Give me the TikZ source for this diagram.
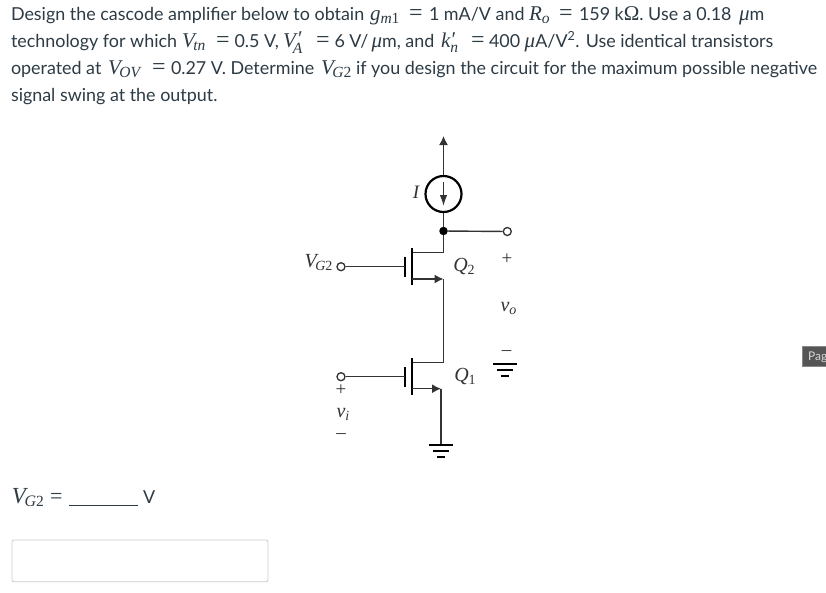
\documentclass[tikz,border=0pt]{standalone}
\usepackage{fontspec}
\setmainfont{Lato}
\newfontfamily\mathserif{Liberation Serif}
\usetikzlibrary{arrows.meta}
\definecolor{txtcol}{HTML}{2D3B45}
\definecolor{wirecol}{HTML}{333333}
\newcommand{\bodyfont}{\fontsize{17.9}{20}\selectfont}
\newcommand{\mvar}[1]{{\mathserif\itshape\fontsize{21}{20}\selectfont #1}}
\newcommand{\msub}[1]{\raisebox{-3.5pt}{\mathserif\itshape\fontsize{15.5}{14}\selectfont #1}}
\newcommand{\msubr}[1]{\raisebox{-3.5pt}{\mathserif\fontsize{15.5}{14}\selectfont #1}}
\newcommand{\mrm}[1]{{\mathserif\fontsize{21}{20}\selectfont #1}}
\newcommand{\meq}{{\mathserif\fontsize{24}{20}\selectfont =}}
\newcommand{\cvar}[1]{{\mathserif\itshape\fontsize{20}{18}\selectfont #1}}
\newcommand{\csub}[1]{\raisebox{-3pt}{\mathserif\fontsize{14}{12}\selectfont #1}}
\newcommand{\csubi}[1]{\raisebox{-3pt}{\mathserif\itshape\fontsize{14}{12}\selectfont #1}}
\tikzset{
  x=1pt,y=-1pt,
  txt/.style={anchor=base west,inner sep=0pt,outer sep=0pt,text=txtcol,font=\bodyfont},
  wire/.style={draw=wirecol,line width=1.4pt},
  heavy/.style={draw=black,line width=2.6pt},
  chan/.style={draw=black,line width=2.2pt},
  term/.style={circle,draw=wirecol,line width=1.3pt,fill=white,minimum size=8pt,inner sep=0pt},
  junct/.style={circle,fill=black,minimum size=8.5pt,inner sep=0pt},
  clabel/.style={inner sep=0pt,text=wirecol},
  symlabel/.style={clabel,font=\mathserif\fontsize{19}{19}\selectfont},
  tip/.style={-{Latex[length=9pt,width=9pt]}},
}
\newcommand{\gnd}[2]{
  \draw[heavy] (#1-12,#2) -- (#1+12,#2);
  \draw[heavy] (#1-8,#2+6) -- (#1+8,#2+6);
  \draw[heavy] (#1-4,#2+12) -- (#1+4,#2+12);
}
\begin{document}
\begin{tikzpicture}
\useasboundingbox[fill=white] (0,0) rectangle (826,592);
% Text, line 1
\node[txt] (a1) at (11,20) {Design the cascode amplifier below to obtain};
\node[txt] (a2) at (370,20) {\mvar{g}\msub{m}\msubr{1}};
\node[txt] (a3) at (409,20) {\meq};
\node[txt] (a4) at (429,20) {1 mA/V and};
\node[txt] (a5) at (529,20) {\mvar{R}\msub{o}};
\node[txt] (a6) at (559,20) {\meq};
\node[txt] (a7) at (579,20) {159 k\mrm{Ω}. Use a 0.18};
\node[txt] (a8) at (739,20) {\mvar{μ}m};
% line 2
\node[txt] (b1) at (11,47) {technology for which};
\node[txt] (b2) at (182,47) {\mvar{V}\msub{\kern-1.5pt tn}};
\node[txt] (b3) at (216,47) {\meq};
\node[txt] (b4) at (234.5,47) {0.5 V,};
\node[txt] (b5) at (283,47) {\mvar{V}\rlap{\raisebox{2pt}{\mvar{\kern1pt ′}}}\raisebox{-6pt}{\mathserif\itshape\fontsize{15.5}{14}\selectfont\kern-3pt A}};
\node[txt] (b6) at (316,47) {\meq};
\node[txt] (b7) at (334.5,47) {6 V/\,\mvar{μ}m, and};
\node[txt] (b8) at (441,47) {\mvar{k}\rlap{\raisebox{1pt}{\mvar{′}}}\raisebox{-5pt}{\mathserif\itshape\fontsize{15.5}{14}\selectfont n}};
\node[txt] (b9) at (471,47) {\meq};
\node[txt] (b10) at (489,47) {400 \mvar{μ}A/V\textsuperscript{2}. Use identical transistors};
% line 3
\node[txt] (c1) at (11,74) {operated at};
\node[txt] (c2) at (108,74) {\mvar{V}\msub{\kern-1.5pt OV}};
\node[txt] (c3) at (152,74) {\meq};
\node[txt] (c4) at (171,74) {0.27 V. Determine};
\node[txt] (c5) at (321,74) {\mvar{V}\msub{\kern-1.5pt G}\msubr{2}};
\node[txt] (c7) at (356,74) {if you design the circuit for the maximum possible negative};
% line 4
\node[txt] (d1) at (11,101) {signal swing at the output.};
% Circuit coordinates
\coordinate (top) at (443.5,136);
\node[circle,draw=black,line width=2.2pt,minimum size=36pt,inner sep=0pt,fill=white] (src) at (443.5,194) {};
\node[junct] (jn) at (443.5,231) {};
\node[term] (out) at (507.3,231.5) {};
\coordinate (d2) at (443.5,252.7);
\coordinate (d2c) at (411.7,252.7);
\coordinate (s2c) at (411.7,279);
\coordinate (s2) at (443.5,279);
\coordinate (dd1) at (443.5,362.7);
\coordinate (d1c) at (411.7,362.7);
\coordinate (s1c) at (411.7,388.7);
\coordinate (s1) at (441,388.7);
\coordinate (g1) at (441,445);
\coordinate (ia) at (443.5,182);
\coordinate (ib) at (443.5,206);
\node[term] (vg2) at (341,266.7) {};
\node[term] (vi) at (341,376.7) {};
\coordinate (g2b) at (405,266.7);
\coordinate (g1b) at (405,376.7);
% Supply and source
\draw[wire,tip] (src.north) -- (top);
\draw[wire,-{Latex[length=11pt,width=7.5pt]}] (ia) -- (ib);
\draw[wire] (src.south) -- (jn);
\draw[wire] (jn) -- (out);
\draw[wire] (jn) -- (d2) -- (d2c);
% Q2
\draw[chan] (411.7,247.7) -- (411.7,285);
\draw[heavy] (405,256.7) -- (405,276.7);
\draw[wire] (vg2) -- (g2b);
\draw[wire,tip] (s2c) -- (s2);
\draw[wire] (s2) -- (dd1) -- (d1c);
% Q1
\draw[chan] (411.7,358.3) -- (411.7,395.3);
\draw[heavy] (405,367.3) -- (405,386.7);
\draw[wire] (vi) -- (g1b);
\draw[wire,tip] (s1c) -- (s1);
\draw[wire] (s1) -- (g1);
\gnd{441.3}{445}
\gnd{505.3}{364}
% Circuit labels
\node[clabel,font=\mathserif\itshape\fontsize{19}{19}\selectfont] (li) at (416,192.5) {I};
\node[clabel] (lq2) at (464,266.5) {\cvar{Q}\csub{2}};
\node[clabel] (lq1) at (465,376.5) {\cvar{Q}\csub{1}};
\node[clabel] (lvg) at (318.5,262.5) {\cvar{V}\csubi{\kern-1.5pt G}\csub{2}};
\node[symlabel] (lp2) at (507,259) {+};
\node[clabel] (lvo) at (508.5,308) {\cvar{v}\csubi{o}};
\node[symlabel] (lm2) at (506.7,352.7) {–};
\node[symlabel] (lp1) at (341,390) {+};
\node[clabel] (lvi) at (343,414) {\cvar{v}\csubi{i}};
\node[symlabel] (lm1) at (341,435.7) {–};
% Answer line
\node[txt] (ans) at (12,503) {{\mathserif\itshape\fontsize{23}{20}\selectfont V}\raisebox{-3.5pt}{\mathserif\itshape\fontsize{16}{14}\selectfont \kern-1.5pt G}\msubr{2}};
\node[txt] (anseq) at (50,503) {{\mathserif\fontsize{22}{20}\selectfont =}};
\coordinate (ula) at (69.3,505);
\coordinate (ulb) at (138,505);
\draw[draw=txtcol,line width=0.9pt] (ula) -- (ulb);
\node[txt] (ansv) at (143,503) {V};
\node[draw={rgb,255:red,199;green,205;blue,209},line width=0.9pt,rounded corners=2pt,fill=white,minimum width=256pt,minimum height=41.8pt,inner sep=0pt,anchor=north west] (box) at (11.5,539.5) {};
% Page button
\node[draw={rgb,255:red,136;green,136;blue,136},line width=1pt,fill={rgb,255:red,85;green,85;blue,85},minimum width=40pt,minimum height=20pt,inner sep=0pt,anchor=north west] (btn) at (801.5,345.5) {};
\node[anchor=base west,inner sep=0pt,text=white!85!black,font=\fontsize{12}{12}\selectfont] (btnt) at (808,360) {Pag};
\end{tikzpicture}
\end{document}
